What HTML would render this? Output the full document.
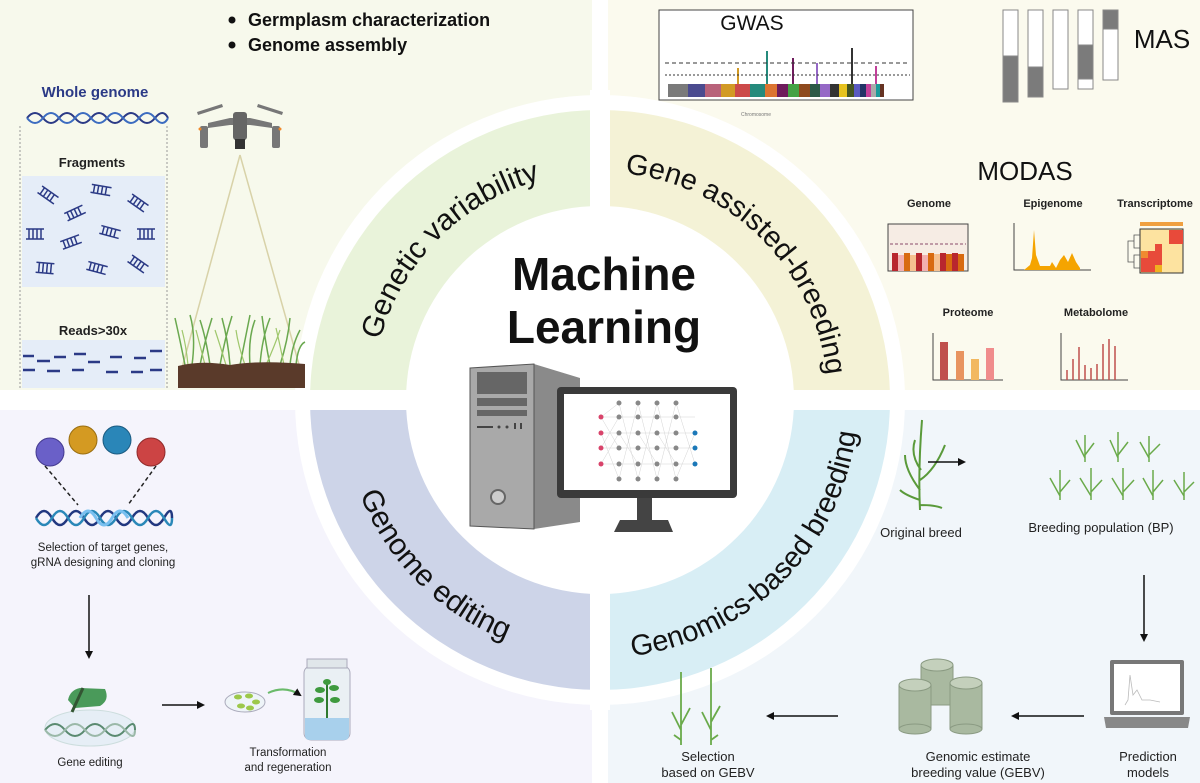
<!DOCTYPE html>
<html><head><meta charset="utf-8"><style>
html,body{margin:0;padding:0;background:#fff}
svg{display:block}
text{font-family:"Liberation Sans",Arial,sans-serif}
</style></head><body>
<svg width="1200" height="783" viewBox="0 0 1200 783" xmlns="http://www.w3.org/2000/svg">
<defs>
<marker id="ah" markerWidth="8" markerHeight="8" refX="6" refY="4" orient="auto" markerUnits="userSpaceOnUse"><path d="M0,0 L8,4 L0,8 z" fill="#111"/></marker>
<path id="pTL" d="M 372 400 A 228 228 0 0 1 600 172"/>
<path id="pTR" d="M 600 172 A 228 228 0 0 1 828 400"/>
<path id="pBL" d="M 342 400 A 258 258 0 0 0 600 658"/>
<path id="pBR" d="M 600 658 A 258 258 0 0 0 858 400"/>
</defs>
<!-- panels -->
<rect x="0" y="0" width="592" height="390" fill="#f7f9ec"/>
<rect x="608" y="0" width="592" height="390" fill="#fbfaee"/>
<rect x="0" y="410" width="592" height="373" fill="#f5f4fc"/>
<rect x="608" y="410" width="592" height="373" fill="#f1f6fa"/>
<!-- ring -->
<circle cx="600" cy="400" r="305" fill="#fff"/>
<path d="M600 400 L310 400 A290 290 0 0 1 600 110 Z" fill="#e9f3da"/>
<path d="M600 400 L600 110 A290 290 0 0 1 890 400 Z" fill="#f4f2d6"/>
<path d="M600 400 L310 400 A290 290 0 0 0 600 690 Z" fill="#cdd4e8"/>
<path d="M600 400 L890 400 A290 290 0 0 1 600 690 Z" fill="#d8eef5"/>
<rect x="590" y="90" width="20" height="620" fill="#fff"/>
<rect x="290" y="390" width="620" height="20" fill="#fff"/>
<circle cx="600" cy="400" r="194" fill="#fff"/>
<g font-size="30" fill="#111">
<text><textPath href="#pTL" startOffset="50%" text-anchor="middle">Genetic variability</textPath></text>
<text><textPath href="#pTR" startOffset="50%" text-anchor="middle" font-size="29">Gene assisted-breeding</textPath></text>
<text><textPath href="#pBL" startOffset="50%" text-anchor="middle">Genome editing</textPath></text>
<text><textPath href="#pBR" startOffset="50%" text-anchor="middle" font-size="29">Genomics-based breeding</textPath></text>
</g>
<text x="604" y="290" font-size="46" font-weight="bold" text-anchor="middle" fill="#111">Machine</text>
<text x="604" y="343" font-size="46" font-weight="bold" text-anchor="middle" fill="#111">Learning</text>
<!-- computer tower -->
<path d="M470 368 L534 364 L580 378 L580 522 L534 529 L470 526 Z" fill="#8a8a8a"/>
<path d="M470 368 L534 364 L534 529 L470 526 Z" fill="#a9a9a9" stroke="#555" stroke-width="1"/>
<rect x="477" y="372" width="50" height="22" fill="#666"/>
<rect x="477" y="398" width="50" height="8" fill="#666"/>
<rect x="477" y="410" width="50" height="6" fill="#666"/>
<rect x="477" y="426" width="16" height="2" fill="#444"/>
<circle cx="499" cy="427" r="1.5" fill="#444"/><circle cx="507" cy="427" r="1.5" fill="#444"/>
<rect x="514" y="423" width="2" height="6" fill="#444"/><rect x="520" y="423" width="2" height="6" fill="#444"/>
<circle cx="498" cy="497" r="7" fill="#ccc" stroke="#666" stroke-width="2"/>
<!-- monitor -->
<rect x="637" y="496" width="15" height="25" fill="#444"/>
<path d="M620 520 L668 520 L673 532 L614 532 Z" fill="#444"/>
<rect x="557" y="387" width="180" height="111" rx="4" fill="#3a3a3a"/>
<rect x="564" y="394" width="166" height="96" fill="#fff"/>
<g stroke="#d4d4d4" stroke-width="0.5">
<path d="M601 417 L619 403 M601 417 L619 448 M601 433 L619 479 M601 448 L619 417 M601 464 L619 433 M619 403 L638 479 M619 479 L638 403 M638 403 L657 479 M638 479 L657 403 M657 403 L676 479 M657 479 L676 403 M676 403 L695 464 M676 479 L695 433 M619 433 L638 464 M638 433 L657 464 M657 433 L676 464"/>
<path d="M601 417 H695 M601 433 H695 M601 448 H695 M601 464 H695"/>
</g>
<g fill="#d8436a"><circle cx="601" cy="417" r="2.5"/><circle cx="601" cy="433" r="2.5"/><circle cx="601" cy="448" r="2.5"/><circle cx="601" cy="464" r="2.5"/></g>
<g fill="#888">
<circle cx="619" cy="403" r="2.5"/><circle cx="619" cy="417" r="2.5"/><circle cx="619" cy="433" r="2.5"/><circle cx="619" cy="448" r="2.5"/><circle cx="619" cy="464" r="2.5"/><circle cx="619" cy="479" r="2.5"/>
<circle cx="638" cy="403" r="2.5"/><circle cx="638" cy="417" r="2.5"/><circle cx="638" cy="433" r="2.5"/><circle cx="638" cy="448" r="2.5"/><circle cx="638" cy="464" r="2.5"/><circle cx="638" cy="479" r="2.5"/>
<circle cx="657" cy="403" r="2.5"/><circle cx="657" cy="417" r="2.5"/><circle cx="657" cy="433" r="2.5"/><circle cx="657" cy="448" r="2.5"/><circle cx="657" cy="464" r="2.5"/><circle cx="657" cy="479" r="2.5"/>
<circle cx="676" cy="403" r="2.5"/><circle cx="676" cy="417" r="2.5"/><circle cx="676" cy="433" r="2.5"/><circle cx="676" cy="448" r="2.5"/><circle cx="676" cy="464" r="2.5"/><circle cx="676" cy="479" r="2.5"/>
</g>
<g fill="#1b78b8"><circle cx="695" cy="433" r="2.5"/><circle cx="695" cy="448" r="2.5"/><circle cx="695" cy="464" r="2.5"/></g>

<!-- TOP LEFT -->
<circle cx="232" cy="20" r="3.5" fill="#111"/><circle cx="232" cy="45" r="3.5" fill="#111"/>
<text x="248" y="26" font-size="18" font-weight="bold" fill="#111">Germplasm characterization</text>
<text x="248" y="51" font-size="18" font-weight="bold" fill="#111">Genome assembly</text>
<text x="95" y="97" font-size="15" font-weight="bold" fill="#2b3a86" text-anchor="middle">Whole genome</text>
<path d="M27 118 Q35 108 43 118 T59 118 T75 118 T91 118 T107 118 T123 118 T139 118 T155 118 T168 118" fill="none" stroke="#2b3a86" stroke-width="2"/>
<path d="M27 118 Q35 128 43 118 T59 118 T75 118 T91 118 T107 118 T123 118 T139 118 T155 118 T168 118" fill="none" stroke="#3c6cc0" stroke-width="2"/>
<line x1="20" y1="126" x2="20" y2="388" stroke="#999" stroke-dasharray="2,2"/>
<line x1="167" y1="126" x2="167" y2="388" stroke="#999" stroke-dasharray="2,2"/>
<text x="92" y="167" font-size="13" font-weight="bold" fill="#222" text-anchor="middle">Fragments</text>
<rect x="22" y="176" width="143" height="111" fill="#e5edf8"/>
<g stroke="#2b3a86" stroke-width="1.5" fill="none">
<g transform="translate(48,195) rotate(35)"><path d="M-10 -4 H10 M-10 4 H10 M-7 -4 V4 M-3 -4 V4 M1 -4 V4 M5 -4 V4"/></g>
<g transform="translate(101,190) rotate(10)"><path d="M-10 -4 H10 M-10 4 H10 M-7 -4 V4 M-3 -4 V4 M1 -4 V4 M5 -4 V4"/></g>
<g transform="translate(138,203) rotate(35)"><path d="M-10 -4 H10 M-10 4 H10 M-7 -4 V4 M-3 -4 V4 M1 -4 V4 M5 -4 V4"/></g>
<g transform="translate(75,213) rotate(-25)"><path d="M-10 -4 H10 M-10 4 H10 M-7 -4 V4 M-3 -4 V4 M1 -4 V4 M5 -4 V4"/></g>
<g transform="translate(35,234)"><path d="M-9 -5 H9 M-9 5 H9 M-6 -5 V5 M-2 -5 V5 M2 -5 V5 M6 -5 V5"/></g>
<g transform="translate(110,232) rotate(15)"><path d="M-10 -4 H10 M-10 4 H10 M-7 -4 V4 M-3 -4 V4 M1 -4 V4 M5 -4 V4"/></g>
<g transform="translate(146,234)"><path d="M-9 -5 H9 M-9 5 H9 M-6 -5 V5 M-2 -5 V5 M2 -5 V5 M6 -5 V5"/></g>
<g transform="translate(71,242) rotate(-20)"><path d="M-10 -4 H10 M-10 4 H10 M-7 -4 V4 M-3 -4 V4 M1 -4 V4 M5 -4 V4"/></g>
<g transform="translate(45,268) rotate(5)"><path d="M-9 -5 H9 M-9 5 H9 M-6 -5 V5 M-2 -5 V5 M2 -5 V5 M6 -5 V5"/></g>
<g transform="translate(97,268) rotate(15)"><path d="M-10 -4 H10 M-10 4 H10 M-7 -4 V4 M-3 -4 V4 M1 -4 V4 M5 -4 V4"/></g>
<g transform="translate(138,264) rotate(35)"><path d="M-10 -4 H10 M-10 4 H10 M-7 -4 V4 M-3 -4 V4 M1 -4 V4 M5 -4 V4"/></g>
</g>
<text x="93" y="335" font-size="13" font-weight="bold" fill="#222" text-anchor="middle">Reads&gt;30x</text>
<rect x="22" y="340" width="143" height="48" fill="#e5edf8"/>
<g stroke="#2b3a86" stroke-width="2.5">
<path d="M23 356 H34 M37 361 H50 M54 357 H66 M74 354 H86 M88 362 H100 M110 357 H122 M134 358 H146 M150 351 H162"/>
<path d="M23 370 H35 M47 371 H60 M72 370 H84 M106 372 H118 M131 372 H143 M150 370 H162"/>
</g>
<!-- drone -->
<line x1="240" y1="155" x2="182" y2="368" stroke="#d8d2a8" stroke-width="1.5"/>
<line x1="240" y1="155" x2="300" y2="368" stroke="#d8d2a8" stroke-width="1.5"/>
<g fill="#777">
<path d="M208 123 L230 118 L250 118 L272 123 L272 128 L250 125 L230 125 L208 128 Z"/>
<rect x="233" y="112" width="14" height="28" rx="3" fill="#666"/>
<rect x="235" y="139" width="10" height="10" fill="#333"/>
<rect x="200" y="126" width="8" height="22" rx="2"/><rect x="272" y="126" width="8" height="22" rx="2"/>
<path d="M197 112 L222 104 L223 107 L198 115 Z"/><path d="M258 104 L283 112 L282 115 L257 107 Z"/>
</g>
<circle cx="200" cy="129" r="1.5" fill="#f08a2a"/><circle cx="280" cy="129" r="1.5" fill="#f08a2a"/>
<!-- soil & grass -->
<g stroke="#6aa84f" stroke-width="1.5" fill="none">
<path d="M185 365 Q180 340 175 318 M192 365 Q196 335 190 315 M200 365 Q205 340 212 318 M210 365 Q206 338 200 320 M220 365 Q225 338 232 316 M230 365 Q228 340 222 318 M240 365 Q245 340 250 315 M250 365 Q248 338 255 320 M260 365 Q262 338 270 318 M270 365 Q265 340 262 316 M280 365 Q288 340 290 318 M290 365 Q292 345 300 330 M296 365 Q298 345 305 342"/>
</g>
<g stroke="#9fc76c" stroke-width="1.2" fill="none">
<path d="M188 365 Q186 345 182 330 M205 365 Q200 345 196 330 M226 365 Q220 345 215 330 M245 365 Q238 345 236 330 M266 365 Q275 345 280 330 M284 365 Q280 345 276 328"/>
</g>
<path d="M178 366 Q200 360 230 365 Q260 360 305 364 L305 388 L178 388 Z" fill="#5a3a2a"/>

<!-- TOP RIGHT -->
<rect x="659" y="10" width="254" height="90" fill="#fff" stroke="#444" stroke-width="1"/>
<text x="752" y="30" font-size="21" fill="#111" text-anchor="middle">GWAS</text>
<g>
<rect x="668" y="84" width="20" height="13" fill="#7a7a7a"/><rect x="688" y="84" width="17" height="13" fill="#4b4b8f"/>
<rect x="705" y="84" width="16" height="13" fill="#b8627a"/><rect x="721" y="84" width="14" height="13" fill="#d29a25"/>
<rect x="735" y="84" width="15" height="13" fill="#cc4a4a"/><rect x="750" y="84" width="15" height="13" fill="#258a7c"/>
<rect x="765" y="84" width="12" height="13" fill="#dc7431"/><rect x="777" y="84" width="11" height="13" fill="#6e1c5c"/>
<rect x="788" y="84" width="11" height="13" fill="#45a245"/><rect x="799" y="84" width="11" height="13" fill="#8e4a1e"/>
<rect x="810" y="84" width="10" height="13" fill="#2c5848"/><rect x="820" y="84" width="10" height="13" fill="#9568c6"/>
<rect x="830" y="84" width="9" height="13" fill="#333"/><rect x="839" y="84" width="8" height="13" fill="#e6c21e"/>
<rect x="847" y="84" width="7" height="13" fill="#445522"/><rect x="854" y="84" width="6" height="13" fill="#5a5ac0"/>
<rect x="860" y="84" width="6" height="13" fill="#223366"/><rect x="866" y="84" width="5" height="13" fill="#c23f9a"/>
<rect x="871" y="84" width="5" height="13" fill="#aaa"/><rect x="876" y="84" width="4" height="13" fill="#1a9a9a"/>
<rect x="880" y="84" width="4" height="13" fill="#663322"/>
<rect x="766" y="51" width="2" height="33" fill="#258a7c"/><rect x="792" y="58" width="2" height="26" fill="#6e1c5c"/>
<rect x="851" y="48" width="2" height="36" fill="#333"/><rect x="737" y="68" width="2" height="16" fill="#d29a25"/>
<rect x="816" y="63" width="2" height="21" fill="#9568c6"/><rect x="875" y="66" width="2" height="18" fill="#c23f9a"/>
</g>
<line x1="665" y1="63" x2="910" y2="63" stroke="#333" stroke-dasharray="4,3"/>
<line x1="665" y1="75" x2="910" y2="75" stroke="#333" stroke-dasharray="2,2"/>
<text x="756" y="116" font-size="5" fill="#777" text-anchor="middle">Chromosome</text>
<g fill="#7b7b7b" stroke="#888" stroke-width="1">
<rect x="1003" y="10" width="15" height="92" fill="#fff"/><rect x="1003" y="56" width="15" height="46"/>
<rect x="1028" y="10" width="15" height="87" fill="#fff"/><rect x="1028" y="67" width="15" height="30"/>
<rect x="1053" y="10" width="15" height="79" fill="#fff"/>
<rect x="1078" y="10" width="15" height="79" fill="#fff"/><rect x="1078" y="45" width="15" height="34"/>
<rect x="1103" y="10" width="15" height="70" fill="#fff"/><rect x="1103" y="10" width="15" height="19"/>
</g>
<text x="1162" y="48" font-size="26" fill="#111" text-anchor="middle">MAS</text>
<text x="1025" y="180" font-size="26" fill="#111" text-anchor="middle">MODAS</text>
<g font-size="11" font-weight="bold" fill="#222" text-anchor="middle">
<text x="929" y="207">Genome</text><text x="1053" y="207">Epigenome</text><text x="1155" y="207">Transcriptome</text>
<text x="968" y="316">Proteome</text><text x="1096" y="316">Metabolome</text>
</g>
<rect x="888" y="224" width="80" height="47" fill="#f6ece4" stroke="#444"/>
<g>
<rect x="892" y="253" width="6" height="18" fill="#b8262e"/><rect x="898" y="255" width="6" height="16" fill="#f2b0b0"/>
<rect x="904" y="253" width="6" height="18" fill="#d86a10"/><rect x="910" y="255" width="6" height="16" fill="#f5c090"/>
<rect x="916" y="253" width="6" height="18" fill="#b8262e"/><rect x="922" y="255" width="6" height="16" fill="#f2b0b0"/>
<rect x="928" y="253" width="6" height="18" fill="#d86a10"/><rect x="934" y="254" width="6" height="17" fill="#f5c090"/>
<rect x="940" y="253" width="6" height="18" fill="#b8262e"/><rect x="946" y="254" width="6" height="17" fill="#d86a10"/>
<rect x="952" y="253" width="6" height="18" fill="#b8262e"/><rect x="958" y="254" width="6" height="17" fill="#d86a10"/>
</g>
<line x1="890" y1="244" x2="966" y2="244" stroke="#8a4a6a" stroke-dasharray="3,2"/>
<path d="M1014 223 V270 H1091" fill="none" stroke="#444"/>
<path d="M1024 270 L1030 265 L1032 258 L1034 230 L1036 255 L1040 266 L1050 266 L1052 262 L1056 268 L1060 260 L1064 255 L1068 262 L1072 253 L1076 262 L1080 268 L1080 270 Z" fill="#f5a400"/>
<rect x="1140" y="222" width="43" height="4" fill="#f0a040"/>
<g>
<rect x="1140" y="229" width="43" height="44" fill="#fde3a0" stroke="#333"/>
<rect x="1169" y="230" width="14" height="14" fill="#e84a3a"/><rect x="1155" y="244" width="7" height="7" fill="#e84a3a"/>
<rect x="1141" y="251" width="7" height="7" fill="#f08a30"/><rect x="1148" y="251" width="14" height="14" fill="#e84a3a"/>
<rect x="1141" y="265" width="14" height="7" fill="#e84a3a"/><rect x="1155" y="265" width="7" height="7" fill="#f0b020"/>
<rect x="1141" y="258" width="7" height="7" fill="#e84a3a"/>
</g>
<path d="M1140 235 H1134 V248 H1140 M1134 241 H1128 V262 H1134 M1140 255 H1134 V268 H1140" fill="none" stroke="#555" stroke-width="0.8"/>
<path d="M933 333 V380 H1003" fill="none" stroke="#444"/>
<rect x="940" y="342" width="8" height="38" fill="#c0504d"/><rect x="956" y="351" width="8" height="29" fill="#e89460"/>
<rect x="971" y="359" width="8" height="21" fill="#f2b860"/><rect x="986" y="348" width="8" height="32" fill="#f08c8c"/>
<path d="M1061 333 V380 H1128" fill="none" stroke="#444"/>
<g stroke="#c0504d" stroke-width="1.5">
<path d="M1067 380 V370 M1073 380 V359 M1079 380 V347 M1085 380 V365 M1091 380 V368 M1097 380 V364 M1103 380 V344 M1109 380 V339 M1115 380 V346"/>
</g>

<!-- BOTTOM LEFT -->
<line x1="45" y1="466" x2="78" y2="505" stroke="#222" stroke-dasharray="4,3" stroke-width="1.5"/>
<line x1="156" y1="466" x2="128" y2="505" stroke="#222" stroke-dasharray="4,3" stroke-width="1.5"/>
<circle cx="50" cy="452" r="14" fill="#6a60c8" stroke="#443a90"/>
<circle cx="83" cy="440" r="14" fill="#d49a22" stroke="#9a6e10"/>
<circle cx="117" cy="440" r="14" fill="#2a86b8" stroke="#1a5a80"/>
<circle cx="151" cy="452" r="14" fill="#cc4444" stroke="#902a2a"/>
<path d="M36 518 Q44 504 52 518 T68 518 T84 518 T100 518 T116 518 T132 518 T148 518 T164 518 T172 518" fill="none" stroke="#223880" stroke-width="2.5"/>
<path d="M36 518 Q44 532 52 518 T68 518 T84 518 T100 518 T116 518 T132 518 T148 518 T164 518 T172 518" fill="none" stroke="#2a88b8" stroke-width="2.5"/>
<path d="M80 518 Q88 504 96 518 T112 518 T128 518" fill="none" stroke="#7ac0f0" stroke-width="3"/>
<text x="103" y="551" font-size="11.5" fill="#222" text-anchor="middle">Selection of target genes,</text>
<text x="103" y="566" font-size="11.5" fill="#222" text-anchor="middle">gRNA designing and cloning</text>
<line x1="89" y1="595" x2="89" y2="657" stroke="#111" stroke-width="1.5" marker-end="url(#ah)"/>
<ellipse cx="90" cy="728" rx="45" ry="18" fill="#e6eef6" stroke="#cdd" />
<path d="M45 730 Q55 718 65 730 T85 730 T105 730 T125 730 T135 730" fill="none" stroke="#5a8a70" stroke-width="2"/>
<path d="M45 730 Q55 742 65 730 T85 730 T105 730 T125 730 T135 730" fill="none" stroke="#9ab8a8" stroke-width="2"/>
<path d="M68 700 Q70 690 80 688 L105 689 Q110 700 100 706 L75 708 Z" fill="#4a9a5a"/>
<line x1="83" y1="688" x2="72" y2="712" stroke="#335533" stroke-width="3"/>
<text x="90" y="766" font-size="11.5" fill="#222" text-anchor="middle">Gene editing</text>
<line x1="162" y1="705" x2="203" y2="705" stroke="#111" stroke-width="1.5" marker-end="url(#ah)"/>
<ellipse cx="245" cy="702" rx="20" ry="10" fill="#eef4f8" stroke="#aab"/>
<g fill="#9cc84a"><ellipse cx="238" cy="697" rx="4" ry="2.5"/><ellipse cx="249" cy="696" rx="4" ry="2.5"/><ellipse cx="256" cy="702" rx="4" ry="2.5"/><ellipse cx="241" cy="706" rx="4" ry="2.5"/><ellipse cx="250" cy="708" rx="4" ry="2.5"/></g>
<path d="M268 693 Q285 685 300 695" fill="none" stroke="#6aba6a" stroke-width="2" marker-end="url(#ah)"/>
<rect x="304" y="666" width="46" height="74" rx="7" fill="#eaf0f4" stroke="#aab" />
<rect x="307" y="659" width="40" height="9" fill="#e0e6ea" stroke="#aab"/>
<path d="M305 718 H349 V735 Q349 740 344 740 H310 Q305 740 305 735 Z" fill="#a8d0ec"/>
<line x1="327" y1="718" x2="327" y2="680" stroke="#2e7a2e" stroke-width="2"/>
<g fill="#3e9a3e"><ellipse cx="320" cy="690" rx="5" ry="3"/><ellipse cx="334" cy="688" rx="5" ry="3"/><ellipse cx="319" cy="700" rx="5" ry="3"/><ellipse cx="335" cy="700" rx="5" ry="3"/><ellipse cx="327" cy="682" rx="4" ry="3"/></g>
<text x="288" y="756" font-size="11.5" fill="#222" text-anchor="middle">Transformation</text>
<text x="288" y="771" font-size="11.5" fill="#222" text-anchor="middle">and regeneration</text>

<!-- BOTTOM RIGHT -->
<g stroke="#5a9a3a" stroke-width="2" fill="none">
<path d="M920 510 Q918 470 922 420 M920 490 Q905 470 905 455 M920 480 Q935 470 945 445 M920 500 Q905 495 900 490 M921 470 Q910 455 915 440 M920 505 Q935 505 942 508"/>
</g>
<text x="921" y="537" font-size="13" fill="#222" text-anchor="middle">Original breed</text>
<line x1="928" y1="462" x2="964" y2="462" stroke="#111" stroke-width="1.5" marker-end="url(#ah)"/>
<g stroke="#6aaa4a" stroke-width="1.5" fill="none">
<path d="M1085 462 V435 M1085 458 L1076 440 M1085 455 L1094 443 M1118 462 V432 M1118 458 L1110 440 M1118 455 L1128 442 M1149 462 V436 M1149 458 L1140 442 M1149 455 L1160 444"/>
<path d="M1060 500 V470 M1060 496 L1050 478 M1060 492 L1070 480 M1091 500 V468 M1091 496 L1080 478 M1091 492 L1102 480 M1123 500 V468 M1123 496 L1112 478 M1123 492 L1134 480 M1153 500 V470 M1153 496 L1143 478 M1153 492 L1163 480 M1184 500 V472 M1184 496 L1174 480 M1184 492 L1194 482"/>
</g>
<text x="1101" y="532" font-size="13" fill="#222" text-anchor="middle">Breeding population (BP)</text>
<line x1="1144" y1="575" x2="1144" y2="640" stroke="#111" stroke-width="1.5" marker-end="url(#ah)"/>
<rect x="1110" y="660" width="74" height="55" rx="2" fill="#777"/>
<rect x="1114" y="664" width="66" height="47" fill="#fff"/>
<path d="M1125 705 L1128 700 L1130 675 L1133 695 L1137 690 L1142 700 L1150 700 L1160 702" fill="none" stroke="#bbb" stroke-width="0.8"/>
<path d="M1104 717 H1190 L1188 728 H1106 Z" fill="#888"/>
<text x="1148" y="761" font-size="13" fill="#222" text-anchor="middle">Prediction</text>
<text x="1148" y="777" font-size="13" fill="#222" text-anchor="middle">models</text>
<line x1="1085" y1="762" x2="1085" y2="762" stroke="none"/>
<line x1="1084" y1="716" x2="1013" y2="716" stroke="#111" stroke-width="1.5" marker-end="url(#ah)"/>
<g fill="#a9b9a0" stroke="#8a9a82" stroke-width="1">
<rect x="921" y="665" width="32" height="40"/><ellipse cx="937" cy="665" rx="16" ry="6" fill="#c4d0bc"/>
<rect x="899" y="685" width="32" height="44"/><ellipse cx="915" cy="685" rx="16" ry="6" fill="#c4d0bc"/><ellipse cx="915" cy="729" rx="16" ry="5"/>
<rect x="950" y="683" width="32" height="46"/><ellipse cx="966" cy="683" rx="16" ry="6" fill="#c4d0bc"/><ellipse cx="966" cy="729" rx="16" ry="5"/>
</g>
<text x="978" y="761" font-size="13" fill="#222" text-anchor="middle">Genomic estimate</text>
<text x="978" y="777" font-size="13" fill="#222" text-anchor="middle">breeding value (GEBV)</text>
<line x1="838" y1="716" x2="768" y2="716" stroke="#111" stroke-width="1.5" marker-end="url(#ah)"/>
<g stroke="#6aaa4a" stroke-width="1.8" fill="none">
<path d="M681 745 V672 M681 730 L672 712 M681 725 L690 708 M681 740 L674 735"/>
<path d="M711 745 V668 M711 730 L702 712 M711 722 L720 706 M711 740 L718 735"/>
</g>
<text x="708" y="761" font-size="13" fill="#222" text-anchor="middle">Selection</text>
<text x="708" y="777" font-size="13" fill="#222" text-anchor="middle">based on GEBV</text>
</svg>
</body></html>
